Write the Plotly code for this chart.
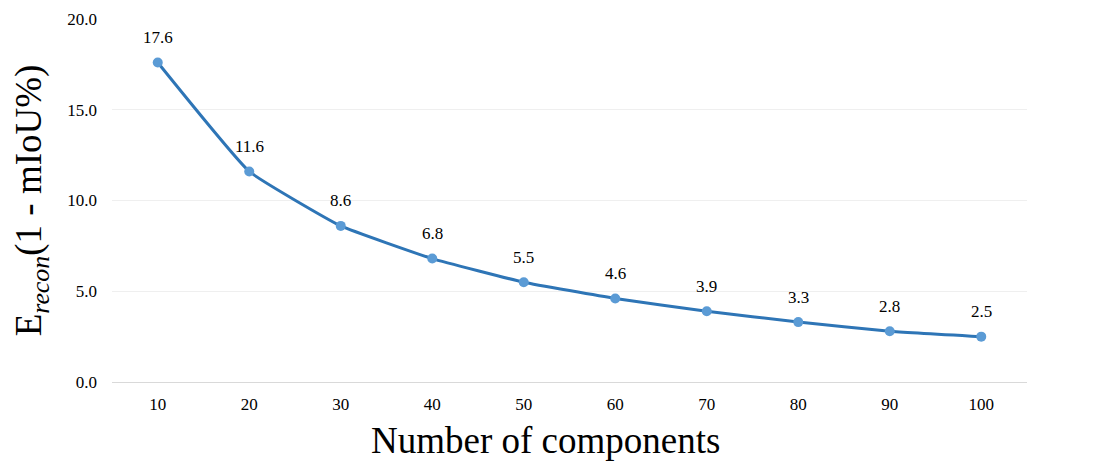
import plotly.graph_objects as go

components = ["10", "20", "30", "40", "50", "60", "70", "80", "90", "100"]
errors = [17.6, 11.6, 8.6, 6.8, 5.5, 4.6, 3.9, 3.3, 2.8, 2.5]
y_ticks = [0, 5, 10, 15, 20]

FONT = "Liberation Serif, serif"

fig = go.Figure()
fig.add_trace(go.Scatter(
    x=components, y=errors, mode="lines+markers",
    line=dict(color="#2E75B6", width=3, shape="spline", smoothing=0.35),
    marker=dict(color="#5B9BD5", size=10),
    showlegend=False, hoverinfo="skip",
))

for i, v in enumerate(errors):
    fig.add_annotation(x=i, y=v, xref="x", yref="y", text=f"{v:.1f}", showarrow=False,
                       yshift=25, font=dict(family=FONT, size=17, color="#000000"))

# x-axis title as annotation (slightly left of center, as in the reference)
fig.add_annotation(x=0.5, y=0, xref="paper", yref="paper", text="Number of components",
                   showarrow=False, xanchor="center", yanchor="top", xshift=-24, yshift=-36,
                   font=dict(family=FONT, size=37, color="#000000"))

# page body has an 8px default margin, so shift the figure margins to compensate
fig.update_layout(
    width=1100, height=469,
    margin=dict(l=104, r=81, t=11, b=95, autoexpand=False),
    paper_bgcolor="white", plot_bgcolor="white",
    font=dict(family=FONT, size=17, color="#000000"),
)
fig.update_xaxes(
    type="category", range=[-0.5, len(components) - 0.5], automargin=False,
    showgrid=False, showline=False, zeroline=False,
    ticks="", ticklabelstandoff=10, tickfont=dict(family=FONT, size=17, color="#000000"),
)
fig.update_yaxes(
    range=[0, 20], tickvals=y_ticks, ticktext=[f"{t:.1f}" for t in y_ticks], automargin=False,
    showgrid=True, gridcolor="#EFEFEF", gridwidth=1,
    zeroline=True, zerolinecolor="#D9D9D9", zerolinewidth=1,
    showline=False, ticks="", ticklabelstandoff=14,
    tickfont=dict(family=FONT, size=17, color="#000000"),
    title=dict(text="E<sub><i>recon</i></sub>(1 - mIoU%)", font=dict(family=FONT, size=37, color="#000000"), standoff=18),
)

fig.write_html("out.html")
